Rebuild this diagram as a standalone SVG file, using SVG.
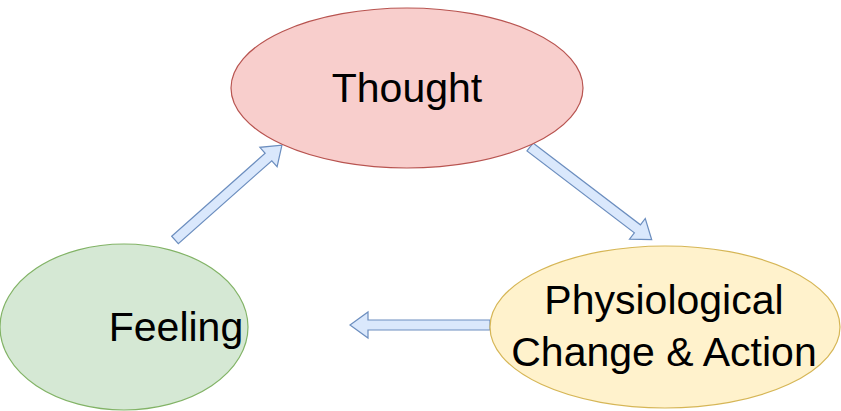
<svg xmlns="http://www.w3.org/2000/svg" width="841" height="411" viewBox="0 0 841 411">
<style>
.lbl{font-family:"Liberation Sans",Arial,sans-serif;font-size:41px;fill:#000;text-anchor:middle}
.arr{fill:#dae8fc;stroke:#6c8ebf;stroke-width:1.2}
</style>
<rect width="841" height="411" fill="#fff"/>
<g id="connectors">
<polygon class="arr" transform="translate(175,240) rotate(-41.6)" points="0,-5 125,-5 125,-13 143,0 125,13 125,5 0,5"/>
<polygon class="arr" transform="translate(530,147) rotate(37.3)" points="0,-5 135,-5 135,-13 153,0 135,13 135,5 0,5"/>
<polygon class="arr" transform="translate(490,325) rotate(180)" points="0,-5 122,-5 122,-13 140,0 122,13 122,5 0,5"/>
</g>
<g id="thought">
<ellipse cx="407" cy="88" rx="176" ry="80" fill="#f8cecc" stroke="#b85450" stroke-width="1.2"/>
<text class="lbl" x="407" y="102">Thought</text>
</g>
<g id="feeling">
<ellipse cx="124" cy="327" rx="124" ry="83" fill="#d5e8d4" stroke="#82b366" stroke-width="1.2"/>
<text class="lbl" x="176" y="341">Feeling</text>
</g>
<g id="physio">
<ellipse cx="665" cy="327" rx="175" ry="81" fill="#fff2cc" stroke="#d6b656" stroke-width="1.2"/>
<text class="lbl" x="664" y="314">Physiological</text>
<text class="lbl" x="664" y="366">Change &amp; Action</text>
</g>
</svg>
